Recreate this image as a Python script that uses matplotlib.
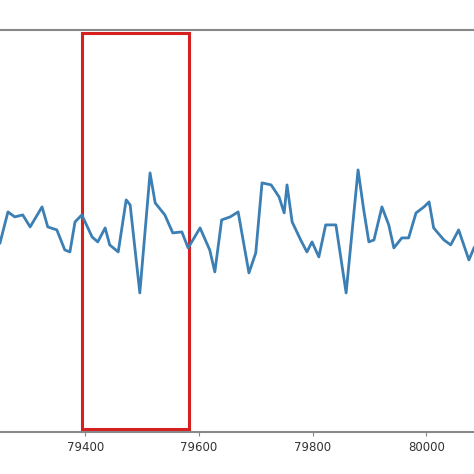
import matplotlib
matplotlib.use("Agg")
import matplotlib.pyplot as plt
from matplotlib.patches import Rectangle

xs = [79250,79264,79276,79290,79303,79324,79334,79350,79364,79373,79382,79394,79412,79422,79435,79443,79458,79472,79479,79496,79514,79523,79540,79554,79570,79581,79602,79619,79628,79640,79655,79669,79688,79700,79711,79727,79741,79750,79755,79764,79779,79790,79799,79811,79823,79841,79859,79880,79890,79899,79908,79922,79934,79943,79957,79969,79982,79996,80005,80013,80031,80043,80057,80075,80084]
pix = [243,212,217,215,227,207,227,230,250,252,222,215,237,242,228,245,252,200,205,293,173,203,215,233,232,248,228,250,272,220,217,212,273,253,183,185,197,213,185,222,240,252,242,257,225,225,293,170,210,242,240,207,225,248,238,238,213,207,202,228,240,245,230,260,248]
ys = [230 - p for p in pix]
xticks = [79200, 79400, 79600, 79800, 80000]
box = (79395, 79583)

fig = plt.figure(figsize=(4.74, 4.74), dpi=100)
ax = fig.add_axes([0, 0.0886, 1, 0.8485])
ax.plot(xs, ys, color='#3b7fb4', lw=2)
ax.add_patch(Rectangle((box[0], -199), box[1]-box[0], 396, fill=False, ec='#d62020', lw=2.2))
ax.set_autoscale_on(False)
ax.set_xlim(79250, 80084)
ax.set_ylim(-202, 200)
ax.set_xticks(xticks)
ax.set_xticklabels([str(t) for t in xticks], fontsize=8.5, color='#333333')
ax.set_xlim(79250, 80084)
ax.set_yticks([])
for s in ['left', 'right']:
    ax.spines[s].set_visible(False)
for s in ['top', 'bottom']:
    ax.spines[s].set_color('#888888')
    ax.spines[s].set_linewidth(1.5)
ax.tick_params(axis='x', color='#888888', length=3)
fig.savefig('out.png', dpi=100)
